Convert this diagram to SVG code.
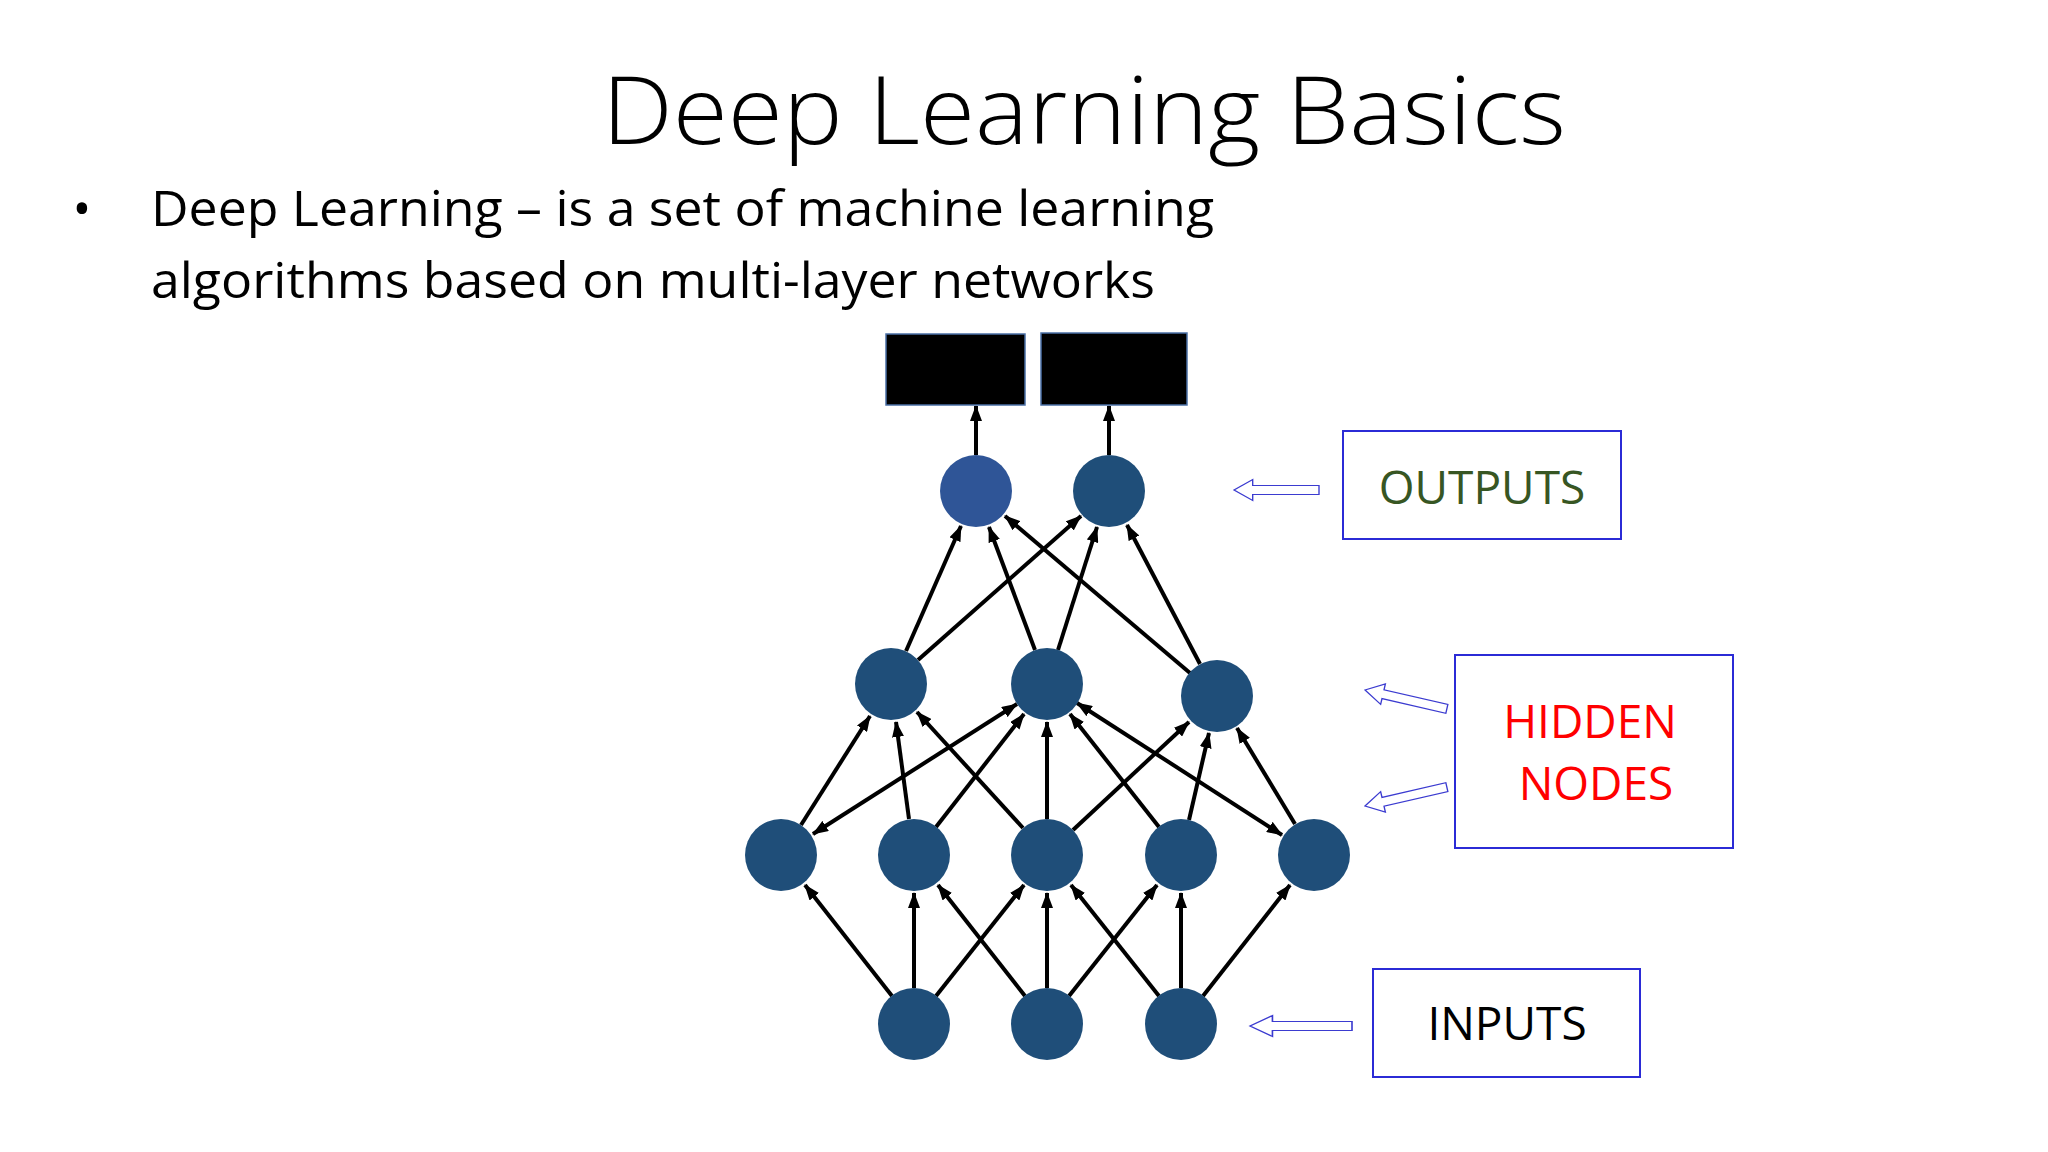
<svg xmlns="http://www.w3.org/2000/svg" width="2048" height="1152" viewBox="0 0 2048 1152">
<style>
.n{fill:#1f4e79}
.e{stroke:#000;stroke-width:4;fill:none;marker-end:url(#ah)}
.d{marker-start:url(#as)}
.box{fill:#fff;stroke:#2b2bd6;stroke-width:2}
.ha{fill:#fff;stroke:#3b3bd0;stroke-width:1.6}
.t{font-family:"Open Sans","Liberation Sans",sans-serif}
</style>
<defs>
<marker id="ah" markerUnits="userSpaceOnUse" markerWidth="16" markerHeight="12" refX="15" refY="6" orient="auto"><path d="M0,0 L16,6 L0,12 z" fill="#000"/></marker>
<marker id="as" markerUnits="userSpaceOnUse" markerWidth="16" markerHeight="12" refX="1" refY="6" orient="auto"><path d="M16,0 L0,6 L16,12 z" fill="#000"/></marker>
<path id="hollow" d="M0,0 L22,-14 L22,-6 L100,-6 L100,6 L22,6 L22,14 z"/>
</defs>
<rect width="2048" height="1152" fill="#fff"/>
<text class="t" x="1084" y="144" font-size="94" text-anchor="middle" font-weight="300" textLength="964" lengthAdjust="spacingAndGlyphs" fill="#000">Deep Learning Basics</text>
<text class="t" x="82" y="226" font-size="50" text-anchor="middle">•</text>
<text class="t" x="151" y="226" font-size="50" textLength="1063" lengthAdjust="spacingAndGlyphs">Deep Learning – is a set of machine learning</text>
<text class="t" x="151" y="298" font-size="50" textLength="1004" lengthAdjust="spacingAndGlyphs">algorithms based on multi-layer networks</text>
<g id="connectors">
<line class="e" x1="892" y1="996" x2="805" y2="885"/>
<line class="e" x1="914" y1="988" x2="914" y2="893"/>
<line class="e" x1="936" y1="996" x2="1024" y2="885"/>
<line class="e" x1="1025" y1="996" x2="938" y2="885"/>
<line class="e" x1="1047" y1="988" x2="1047" y2="893"/>
<line class="e" x1="1069" y1="996" x2="1157" y2="885"/>
<line class="e" x1="1159" y1="996" x2="1071" y2="885"/>
<line class="e" x1="1181" y1="988" x2="1181" y2="893"/>
<line class="e" x1="1203" y1="996" x2="1290" y2="885"/>
<line class="e" x1="801" y1="825" x2="870" y2="716"/>
<line class="e d" x1="1017" y1="704" x2="813" y2="834"/>
<line class="e" x1="909" y1="819" x2="896" y2="722"/>
<line class="e" x1="936" y1="827" x2="1024" y2="714"/>
<line class="e" x1="1023" y1="828" x2="917" y2="712"/>
<line class="e" x1="1047" y1="819" x2="1047" y2="722"/>
<line class="e" x1="1073" y1="830" x2="1189" y2="722"/>
<line class="e" x1="1159" y1="827" x2="1070" y2="714"/>
<line class="e" x1="1189" y1="820" x2="1209" y2="733"/>
<line class="e" x1="1295" y1="824" x2="1237" y2="728"/>
<line class="e d" x1="1077" y1="703" x2="1282" y2="835"/>
<line class="e" x1="906" y1="651" x2="961" y2="526"/>
<line class="e" x1="918" y1="660" x2="1081" y2="516"/>
<line class="e" x1="1035" y1="650" x2="989" y2="527"/>
<line class="e" x1="1058" y1="650" x2="1097" y2="527"/>
<line class="e" x1="1190" y1="673" x2="1005" y2="516"/>
<line class="e" x1="1200" y1="664" x2="1127" y2="525"/>
<line class="e" x1="976" y1="455" x2="976" y2="406"/>
<line class="e" x1="1109" y1="455" x2="1109" y2="406"/>
</g>
<g id="box1"><rect x="886" y="334" width="139" height="71" fill="#000" stroke="#4a6fa5" stroke-width="1.5"/></g>
<g id="box2"><rect x="1041" y="333" width="146" height="72" fill="#000" stroke="#4a6fa5" stroke-width="1.5"/></g>
<g id="o1"><circle cx="976" cy="491" r="36" fill="#2f5597"/></g>
<g id="o2"><circle class="n" cx="1109" cy="491" r="36"/></g>
<g id="h1"><circle class="n" cx="891" cy="684" r="36"/></g>
<g id="h2"><circle class="n" cx="1047" cy="684" r="36"/></g>
<g id="h3"><circle class="n" cx="1217" cy="696" r="36"/></g>
<g id="r1"><circle class="n" cx="781" cy="855" r="36"/></g>
<g id="r2"><circle class="n" cx="914" cy="855" r="36"/></g>
<g id="r3"><circle class="n" cx="1047" cy="855" r="36"/></g>
<g id="r4"><circle class="n" cx="1181" cy="855" r="36"/></g>
<g id="r5"><circle class="n" cx="1314" cy="855" r="36"/></g>
<g id="i1"><circle class="n" cx="914" cy="1024" r="36"/></g>
<g id="i2"><circle class="n" cx="1047" cy="1024" r="36"/></g>
<g id="i3"><circle class="n" cx="1181" cy="1024" r="36"/></g>
<g id="outputs">
<rect class="box" x="1343" y="431" width="278" height="108"/>
<text class="t" x="1482" y="504" font-size="46" text-anchor="middle" fill="#375623">OUTPUTS</text>
<use href="#hollow" class="ha" transform="translate(1234,490) scale(0.85,0.75)"/>
</g>
<g id="hidden">
<rect class="box" x="1455" y="655" width="278" height="193"/>
<text class="t" x="1590" y="738" font-size="46" text-anchor="middle" fill="#ff0000">HIDDEN</text>
<text class="t" x="1596" y="800" font-size="46" text-anchor="middle" fill="#ff0000">NODES</text>
<use href="#hollow" class="ha" transform="translate(1365,690) rotate(13) scale(0.84,0.75)"/>
<use href="#hollow" class="ha" transform="translate(1365,806) rotate(-13) scale(0.84,0.75)"/>
</g>
<g id="inputs">
<rect class="box" x="1373" y="969" width="267" height="108"/>
<text class="t" x="1507" y="1040" font-size="46" text-anchor="middle" fill="#000">INPUTS</text>
<use href="#hollow" class="ha" transform="translate(1250,1026) scale(1.02,0.75)"/>
</g>
</svg>
